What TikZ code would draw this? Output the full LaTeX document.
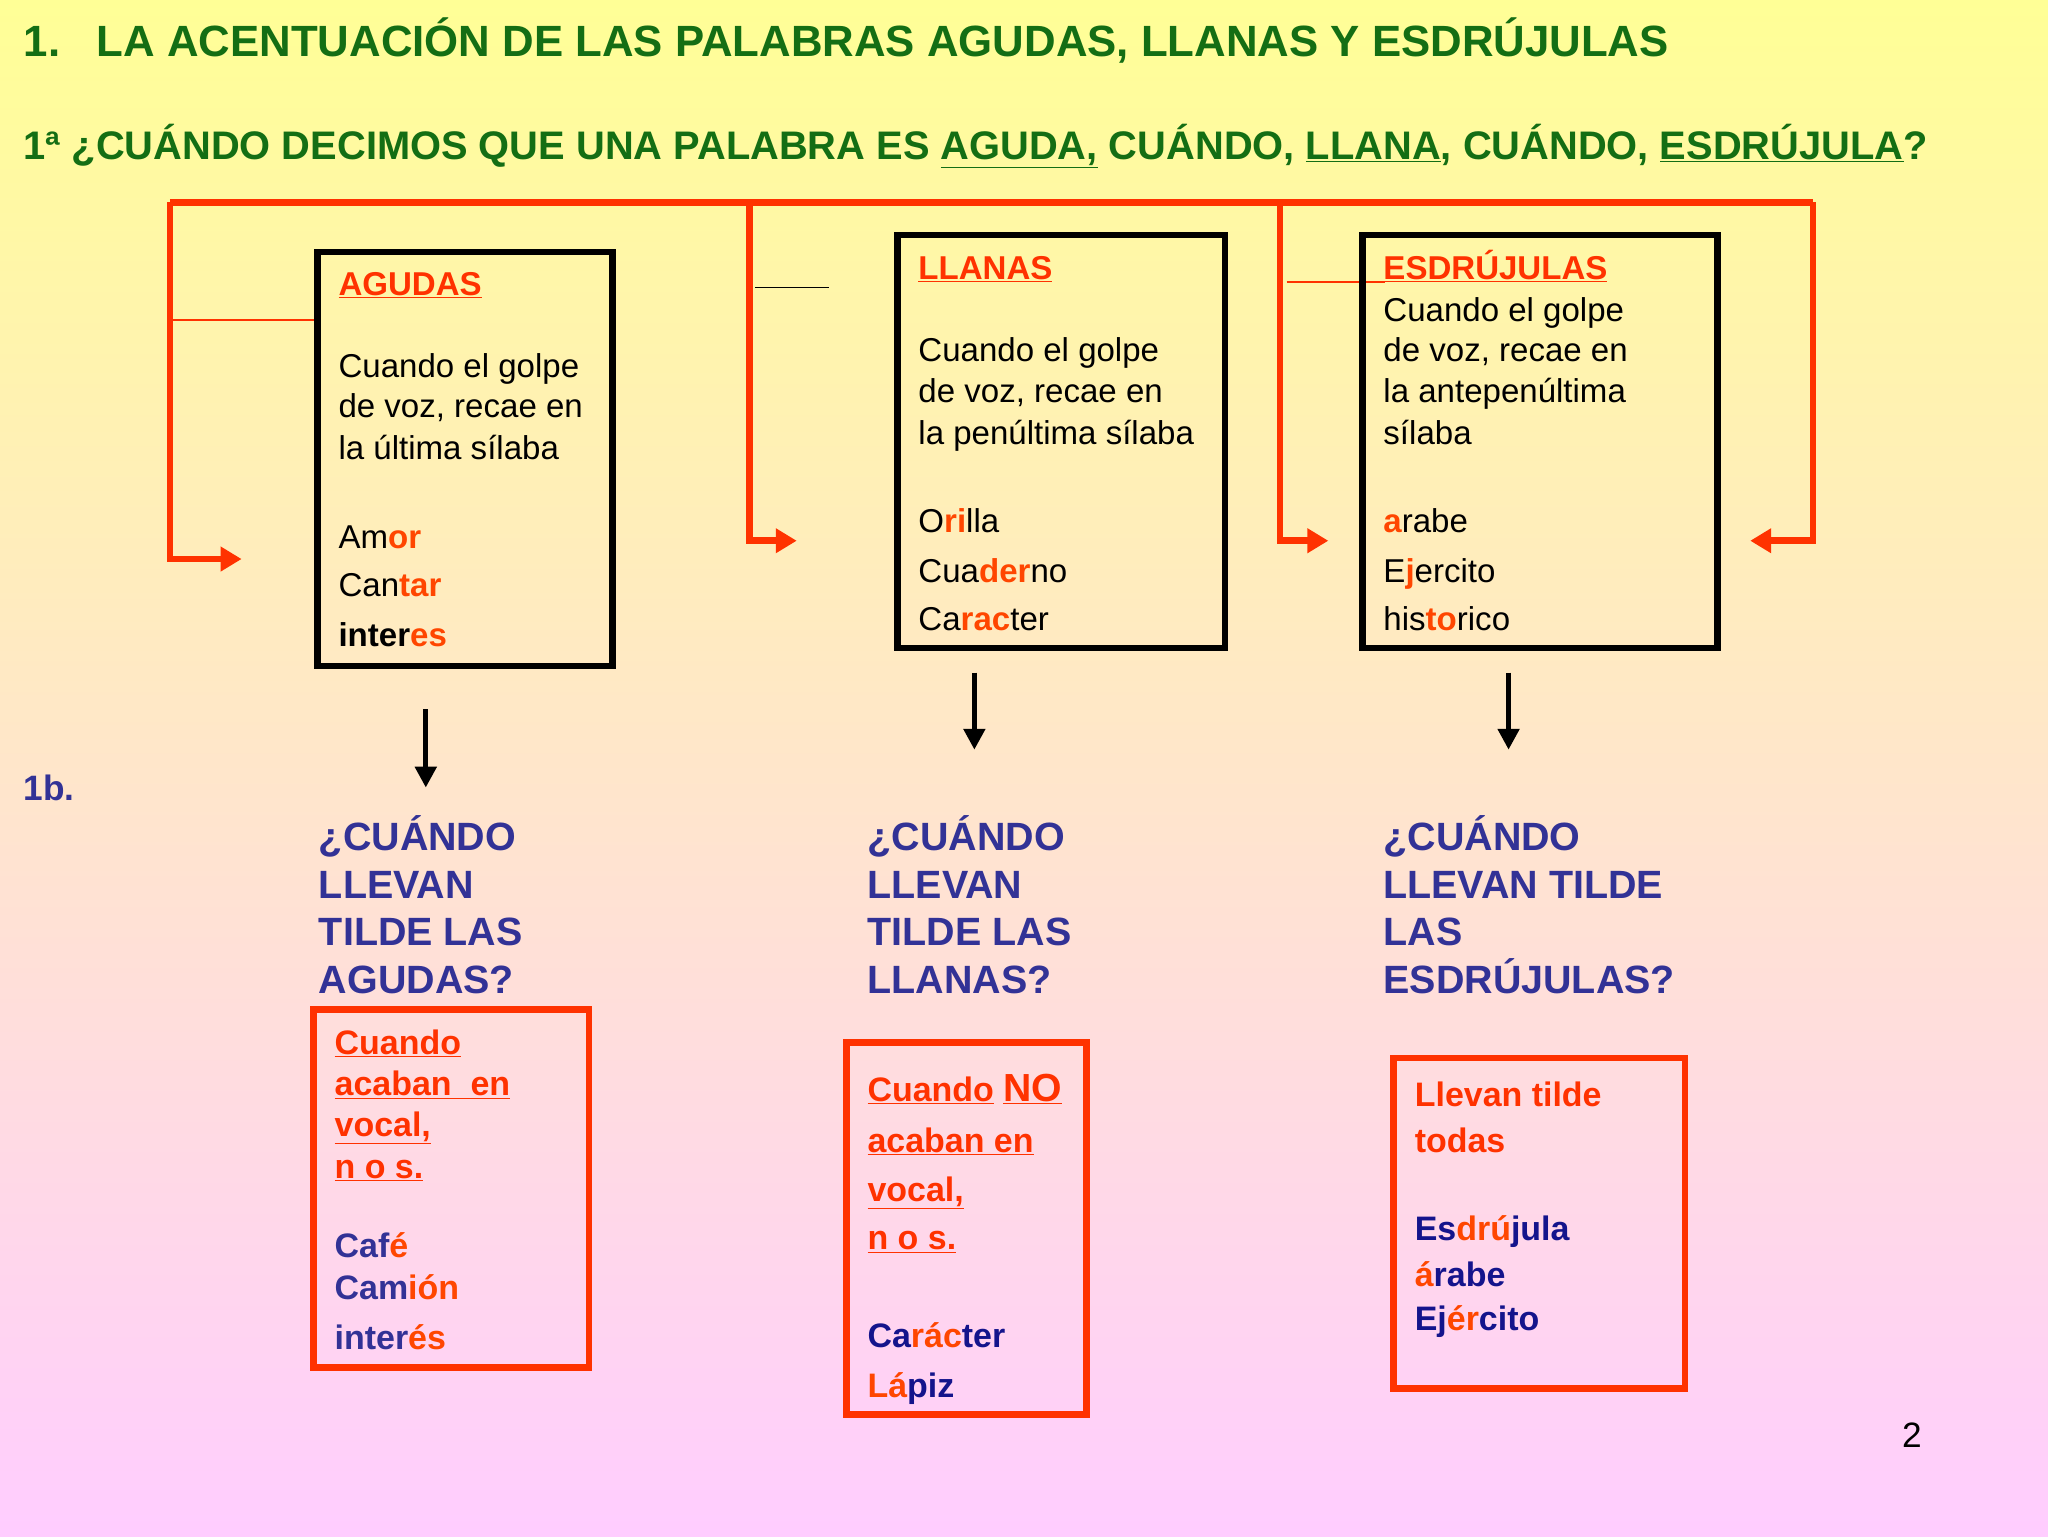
\documentclass[tikz,border=0pt]{standalone}
\usepackage{fontspec}
\setmainfont{Liberation Sans}
\usetikzlibrary{arrows.meta}
\definecolor{tgreen}{RGB}{20,110,20}
\definecolor{tblue}{RGB}{50,50,150}
\definecolor{dblue}{RGB}{20,20,140}
\definecolor{tred}{RGB}{255,50,0}
\definecolor{hred}{RGB}{255,70,0}
\newcommand{\hr}[1]{\textcolor{hred}{#1}}
\begin{document}
\begin{tikzpicture}[x=1pt,y=-1pt,
  t/.style={anchor=base west,inner sep=0pt},
  title/.style={t,font=\fontsize{33.5}{33.5}\selectfont\bfseries,text=tgreen},
  sub/.style={t,font=\fontsize{30.5}{30.5}\selectfont\bfseries,text=tgreen},
  body/.style={t,font=\fontsize{25.3}{25.3}\selectfont},
  q/.style={t,font=\fontsize{30.2}{30.2}\selectfont\bfseries,text=tblue},
  rt/.style={t,font=\fontsize{26}{26}\selectfont\bfseries,text=tred},
  bt/.style={t,font=\fontsize{26}{26}\selectfont\bfseries,text=dblue},
  rline/.style={draw=tred,line width=5pt},
  rarr/.style={rline,-{Triangle[length=16pt,width=18pt]}},
  bbox/.style={draw=black,line width=5pt},
  rbox/.style={draw=tred,line width=5pt},
  barr/.style={draw=black,line width=4pt,-{Triangle[length=16pt,width=16pt]}}]
\shade[top color={rgb,255:red,255;green,255;blue,150},bottom color={rgb,255:red,255;green,205;blue,255}] (0,0) rectangle (1568,1176);
\useasboundingbox (0,0) rectangle (1568,1176);
\node[title] (t1) at (18,43) {1.\hspace{28pt}LA ACENTUACIÓN DE LAS PALABRAS AGUDAS, LLANAS Y ESDRÚJULAS};
\node[sub] (t2) at (18,122) {1ª ¿CUÁNDO DECIMOS QUE UNA PALABRA ES \underline{AGUDA,} CUÁNDO, \underline{LLANA}, CUÁNDO, \underline{ESDRÚJULA}?};
% red connector
\coordinate (c1) at (130,155); \coordinate (c4) at (1388,155);
\coordinate (c2) at (574,155); \coordinate (c3) at (980,155);
\draw[rline] (c1) -- (c4);
\coordinate (a1) at (130,428); \coordinate (e1) at (185,428);
\coordinate (a2) at (574,414); \coordinate (e2) at (610,414);
\coordinate (a3) at (980,414); \coordinate (e3) at (1017,414);
\coordinate (a4) at (1388,414); \coordinate (e4) at (1340,414);
\draw[rarr] (c1) -- (a1) -- (e1);
\draw[rarr] (c2) -- (a2) -- (e2);
\draw[rarr] (c3) -- (a3) -- (e3);
\draw[rarr] (c4) -- (a4) -- (e4);
\draw[tred,line width=1pt] (130,245) -- (245,245);
\draw[black,line width=1pt] (578,220) -- (635,220);
\draw[tred,line width=1pt] (985,216) -- (1060,216);
% boxes
\draw[bbox] (243,193) rectangle (469,510);
\draw[bbox] (687,180) rectangle (938,496);
\draw[bbox] (1043,180) rectangle (1315,496);
\node[body,text=tred,font=\fontsize{25.3}{25.3}\selectfont\bfseries] (ag) at (259,226) {\underline{AGUDAS}};
\node[body] (ag1) at (259,289) {Cuando el golpe};
\node[body] (ag2) at (259,320) {de voz, recae en};
\node[body] (ag3) at (259,352) {la última sílaba};
\node[body] (ag4) at (259,420) {Am\hr{\bfseries or}};
\node[body] (ag5) at (259,457) {Can\hr{\bfseries tar}};
\node[body] (ag6) at (259,495) {\bfseries inter\hr{es}};
\node[body,text=tred,font=\fontsize{25.3}{25.3}\selectfont\bfseries] (ll) at (703,214) {\underline{LLANAS}};
\node[body] (ll1) at (703,277) {Cuando el golpe};
\node[body] (ll2) at (703,308) {de voz, recae en};
\node[body] (ll3) at (703,340) {la penúltima sílaba};
\node[body] (ll4) at (703,408) {O\hr{\bfseries ri}lla};
\node[body] (ll5) at (703,446) {Cua\hr{\bfseries der}no};
\node[body] (ll6) at (703,483) {Ca\hr{\bfseries rac}ter};
\node[body,text=tred,font=\fontsize{25.3}{25.3}\selectfont\bfseries] (es) at (1059,214) {\underline{ESDRÚJULAS}};
\node[body] (es1) at (1059,246) {Cuando el golpe};
\node[body] (es2) at (1059,277) {de voz, recae en};
\node[body] (es3) at (1059,308) {la antepenúltima};
\node[body] (es4) at (1059,340) {sílaba};
\node[body] (es5) at (1059,408) {\hr{\bfseries a}rabe};
\node[body] (es6) at (1059,446) {E\hr{\bfseries j}ercito};
\node[body] (es7) at (1059,483) {his\hr{\bfseries to}rico};
% black arrows
\coordinate (b1s) at (326,543); \coordinate (b1e) at (326,603);
\coordinate (b2s) at (746,515); \coordinate (b2e) at (746,574);
\coordinate (b3s) at (1155,515); \coordinate (b3e) at (1155,574);
\draw[barr] (b1s) -- (b1e);
\draw[barr] (b2s) -- (b2e);
\draw[barr] (b3s) -- (b3e);
\node[q,font=\fontsize{27}{27}\selectfont\bfseries] (onb) at (18,613) {1b.};
\node[q] (q11) at (244,651) {¿CUÁNDO};
\node[q] (q12) at (244,688) {LLEVAN};
\node[q] (q13) at (244,724) {TILDE LAS};
\node[q] (q14) at (244,761) {AGUDAS?};
\node[q] (q21) at (664,651) {¿CUÁNDO};
\node[q] (q22) at (664,688) {LLEVAN};
\node[q] (q23) at (664,724) {TILDE LAS};
\node[q] (q24) at (664,761) {LLANAS?};
\node[q] (q31) at (1059,651) {¿CUÁNDO};
\node[q] (q32) at (1059,688) {LLEVAN TILDE};
\node[q] (q33) at (1059,724) {LAS};
\node[q] (q34) at (1059,761) {ESDRÚJULAS?};
% red boxes
\draw[rbox] (240,773) rectangle (451,1047);
\draw[rbox] (648,798) rectangle (832,1083);
\draw[rbox] (1067,810) rectangle (1290,1063);
\node[rt] (r11) at (256,807) {\underline{Cuando}};
\node[rt] (r12) at (256,839) {\underline{acaban\ \ en}};
\node[rt] (r13) at (256,870) {\underline{vocal,}};
\node[rt] (r14) at (256,902) {\underline{n o s.}};
\node[bt,text=tblue] (r15) at (256,963) {Caf\hr{é}};
\node[bt,text=tblue] (r16) at (256,995) {Cam\hr{ión}};
\node[bt,text=tblue] (r17) at (256,1033) {inter\hr{és}};
\node[rt] (r21) at (664,843) {\underline{Cuando} \underline{\fontsize{30}{30}\selectfont NO}};
\node[rt] (r22) at (664,882) {\underline{acaban en}};
\node[rt] (r23) at (664,920) {\underline{vocal,}};
\node[rt] (r24) at (664,957) {\underline{n o s.}};
\node[bt] (r25) at (664,1032) {Ca\hr{rác}ter};
\node[bt] (r26) at (664,1070) {\hr{Lá}piz};
\node[rt] (r31) at (1083,847) {Llevan tilde};
\node[rt] (r32) at (1083,882) {todas};
\node[bt] (r33) at (1083,950) {Es\hr{drú}jula};
\node[bt] (r34) at (1083,985) {\hr{á}rabe};
\node[bt] (r35) at (1083,1019) {Ej\hr{ér}cito};
\node[t,font=\fontsize{27}{27}\selectfont] (pg) at (1456,1108) {2};
\end{tikzpicture}
\end{document}
